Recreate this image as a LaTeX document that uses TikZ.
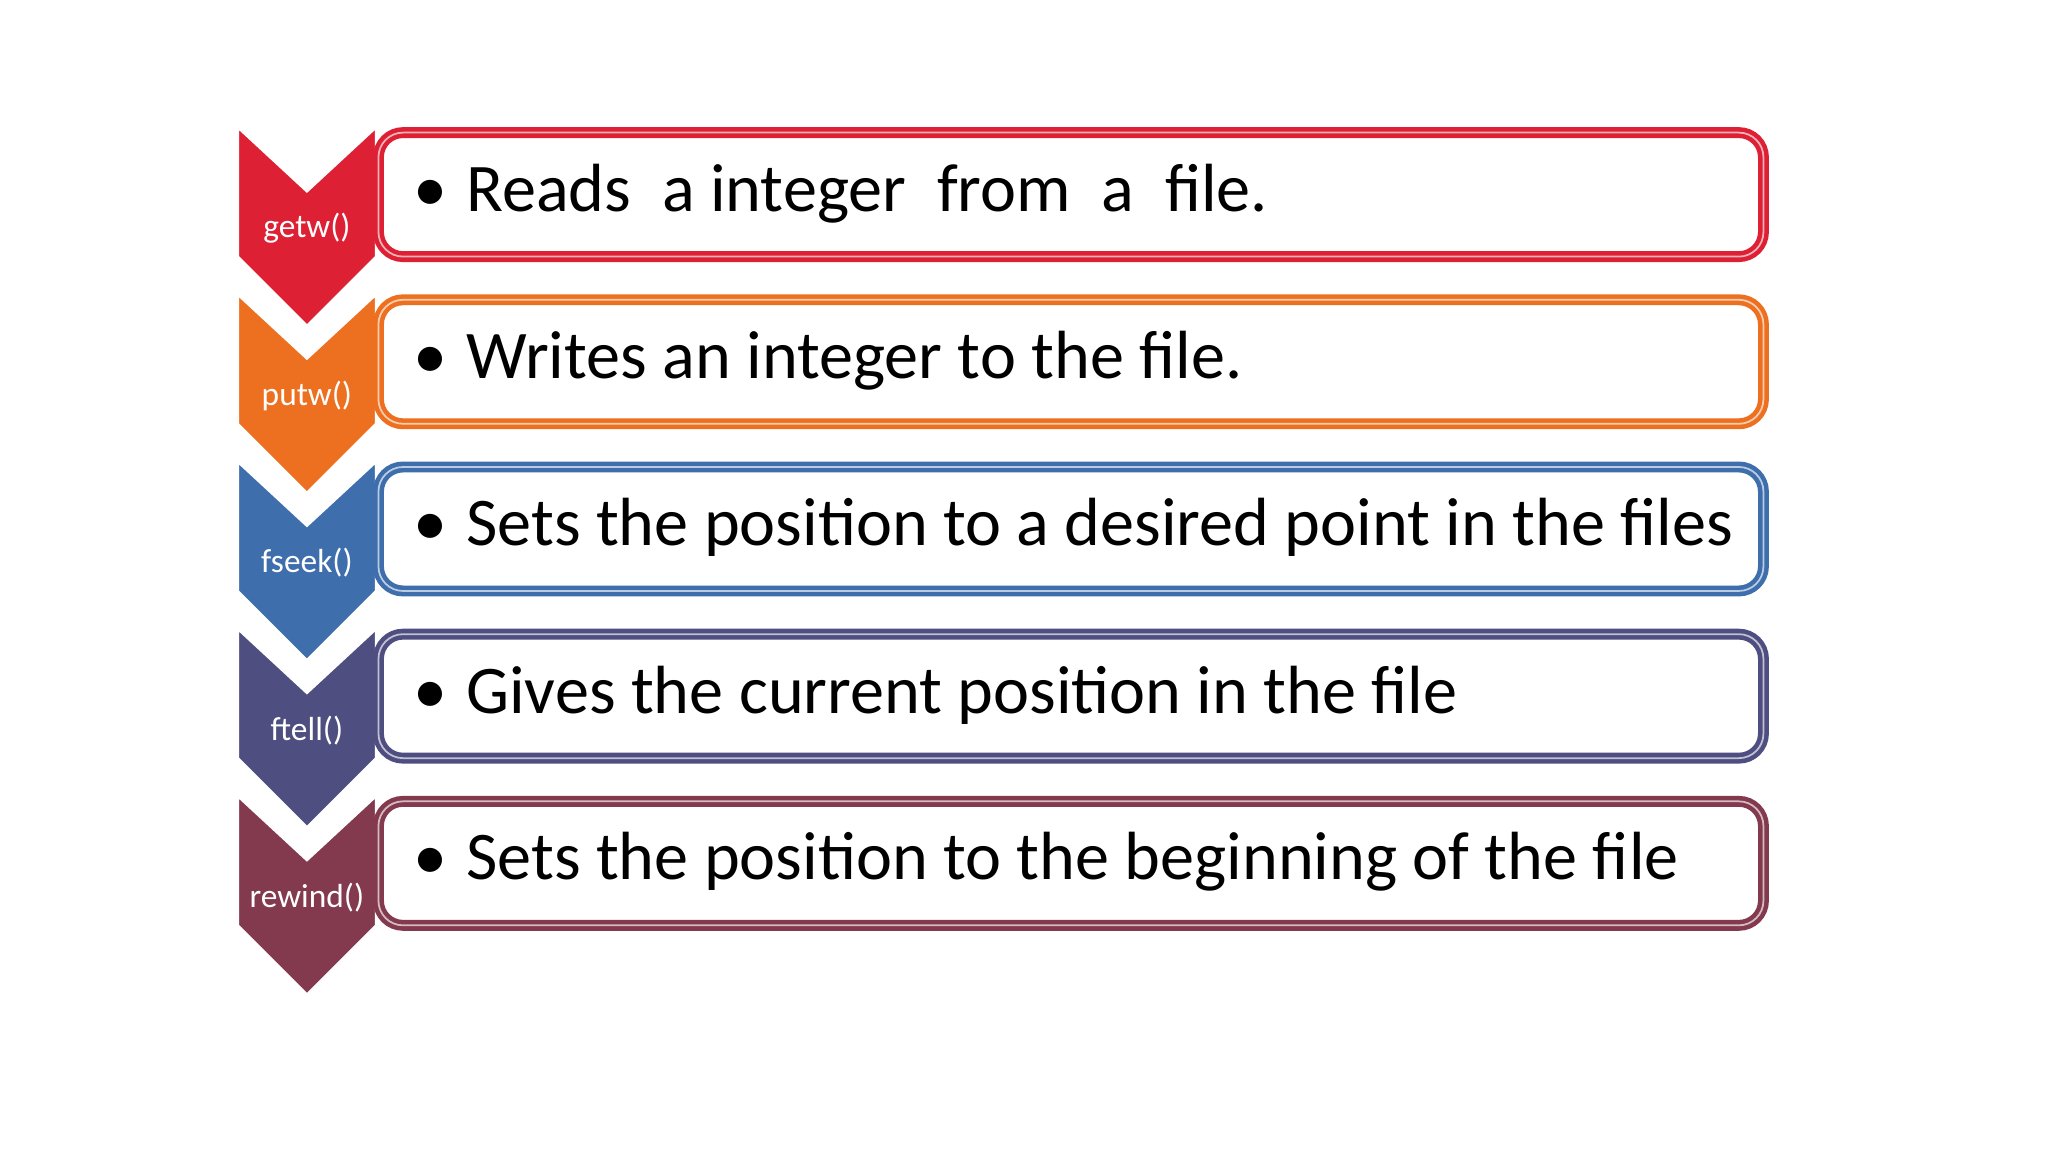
\documentclass[tikz,border=0pt]{standalone}
\usepackage{fontspec}
\setmainfont{Carlito}
\definecolor{cA}{RGB}{221,32,52}
\definecolor{cB}{RGB}{236,112,32}
\definecolor{cC}{RGB}{62,110,172}
\definecolor{cD}{RGB}{78,78,128}
\definecolor{cE}{RGB}{132,58,78}
\tikzset{
  itembox/.style={draw=#1, double=#1!35, double distance=0.5pt, line width=1.3pt,
    rounded corners=7pt, fill=white, minimum width=13.85cm, minimum height=1.24cm,
    anchor=west, inner sep=0pt},
  itemtext/.style={anchor=west, font=\fontsize{19.4}{22}\selectfont},
  tagtext/.style={text=white, font=\fontsize{9.5}{11}\selectfont}
}
\begin{document}
\begin{tikzpicture}[x=0.013061cm,y=-0.013061cm]
\useasboundingbox (0,0) rectangle (1568,882);

% Chevrons and boxes, one per row
\foreach \i/\col/\tag/\txt in {
  0/cA/getw()/{Reads\ \ a integer\ \ from\ \ a\ \ file.},
  1/cB/putw()/{Writes an integer to the file.},
  2/cC/fseek()/{Sets the position to a desired point in the files},
  3/cD/ftell()/{Gives the current position in the file},
  4/cE/rewind()/{Sets the position to the beginning of the file}} {
  \pgfmathsetmacro{\t}{95+128*\i}
  \fill [\col, draw=white, line width=1.5pt]
    (181,\t) -- (235,\t+50) -- (289,\t) -- (289,\t+102) -- (235,\t+156)
    -- (181,\t+102) -- cycle;
  \node [tagtext] (tag\i) at (235,\t+80) {\tag};
  \node [itembox=\col] (box\i) at (288,\t+54) {};
  \node [itemtext] (txt\i) at (307,\t+53) {\textbullet\hspace{0.19cm}\txt};
}
\end{tikzpicture}
\end{document}
